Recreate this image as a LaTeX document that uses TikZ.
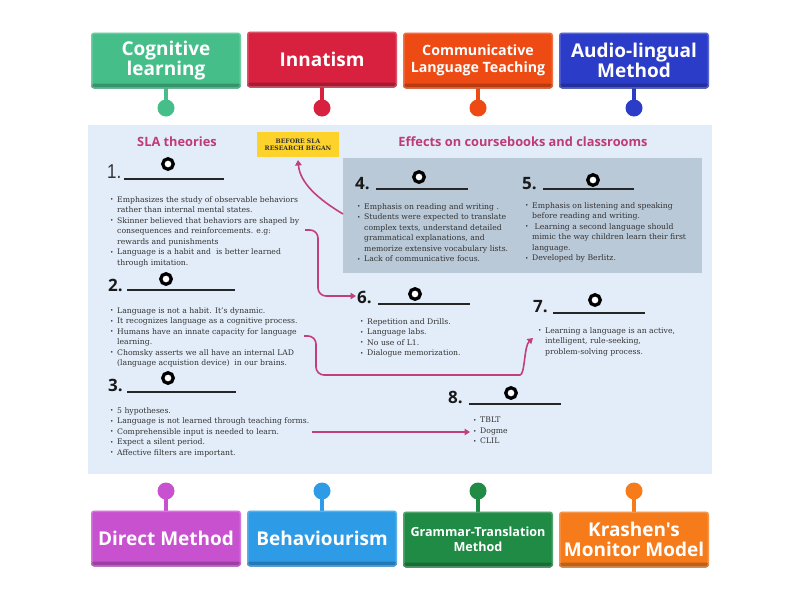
\documentclass[tikz,border=0pt]{standalone}
\usepackage{fontspec}
\setmainfont{DejaVu Serif}
\newfontfamily\osans{Open Sans}
\newfontfamily\lsans{Liberation Sans}
\usetikzlibrary{arrows.meta}
\definecolor{cogG}{HTML}{45BE8A}
\definecolor{innR}{HTML}{D7213F}
\definecolor{cltO}{HTML}{EE4A14}
\definecolor{audB}{HTML}{2B3CC8}
\definecolor{dirM}{HTML}{C851D0}
\definecolor{behB}{HTML}{2E9BE6}
\definecolor{gtmG}{HTML}{1F8B45}
\definecolor{kraO}{HTML}{F67B1A}
\definecolor{panelc}{HTML}{E3EDF9}
\definecolor{greyc}{HTML}{BAC9D8}
\definecolor{headc}{HTML}{BF3A78}
\definecolor{arrowc}{HTML}{C2407A}
\definecolor{yellowc}{HTML}{FDD22B}
\definecolor{bodyc}{HTML}{333333}
\newcommand\bl{\makebox[7pt][l]{\raisebox{0.3pt}{\scalebox{0.75}{\textbullet}}}}
\newcommand\cl{\hspace*{7pt}}
\begin{document}
\begin{tikzpicture}[x=1pt,y=-1pt,
  tile/.style={rounded corners=3pt, minimum width=150pt, minimum height=56pt,
    text=white, align=center, inner sep=0pt, fill=#1,
    path picture={
      \fill[#1!78!black] ([yshift=5pt]path picture bounding box.south west) rectangle (path picture bounding box.south east);
      \draw[white, opacity=.22, line width=3pt] (path picture bounding box.north west) rectangle (path picture bounding box.south east);
    }},
  bigf/.style={font=\osans\bfseries\fontsize{19}{21}\selectfont},
  pin/.style={circle, fill=#1, minimum size=17pt, inner sep=0pt},
  stem/.style={draw=#1, line width=3.5pt},
  head/.style={font=\osans\bfseries\fontsize{12.8}{14}\selectfont, text=headc},
  num/.style={font=\osans\bfseries\fontsize{17}{19}\selectfont, text=black!90, inner sep=0pt, anchor=base west},
  ring/.style={circle, draw=black, fill=white, line width=3.3pt, minimum size=10.5pt, inner sep=0pt},
  uline/.style={draw=black!85, line width=1.4pt},
  body/.style={font=\fontsize{7.7}{10.55}\selectfont, text=bodyc, align=left, inner sep=0pt, anchor=north west},
  conn/.style={draw=arrowc, line width=1.6pt, -{Triangle[length=5.5pt,width=6.5pt]}},
]
\useasboundingbox (0,0) rectangle (800,600);
\fill[white] (0,0) rectangle (800,600);

% top tiles
\draw[stem=cogG] (166,80) -- (166,108);
\draw[stem=innR] (322,80) -- (322,108);
\draw[stem=cltO] (478,80) -- (478,108);
\draw[stem=audB] (634,80) -- (634,108);
\node[tile=cogG, bigf] (t1) at (166,60.5) {Cognitive\\[-1pt]learning};
\node[tile=innR, bigf] (t2) at (322,59.5) {Innatism};
\node[tile=cltO, font=\osans\bfseries\fontsize{14.2}{17}\selectfont] (t3) at (478,60.5) {Communicative\\Language Teaching};
\node[tile=audB, bigf] (t4) at (634,60.5) {Audio-lingual\\[-1pt]Method};
\node[pin=cogG] (p1) at (166,108) {};
\node[pin=innR] (p2) at (322,108) {};
\node[pin=cltO] (p3) at (478,108) {};
\node[pin=audB] (p4) at (634,108) {};

% bottom tiles
\draw[stem=dirM] (166,491) -- (166,515);
\draw[stem=behB] (322,491) -- (322,515);
\draw[stem=gtmG] (478,491) -- (478,515);
\draw[stem=kraO] (634,491) -- (634,515);
\node[pin=dirM] (q1) at (166,491) {};
\node[pin=behB] (q2) at (322,491) {};
\node[pin=gtmG] (q3) at (478,491) {};
\node[pin=kraO] (q4) at (634,491) {};
\node[tile=dirM, bigf] (b1) at (166,538.5) {Direct Method};
\node[tile=behB, bigf] (b2) at (322,538.5) {Behaviourism};
\node[tile=gtmG, font=\osans\bfseries\fontsize{12.6}{15.5}\selectfont] (b3) at (478,539.5) {Grammar-Translation\\Method};
\node[tile=kraO, bigf] (b4) at (634,539.5) {Krashen's\\[-1pt]Monitor Model};

% panel
\fill[panelc] (88,125) rectangle (712,474);
\fill[greyc] (343,158) rectangle (702,273);

\node[head] (h1) at (177,142) {SLA theories};
\node[head] (h2) at (523,142) {Effects on coursebooks and classrooms};
\node[fill=yellowc, minimum width=82pt, minimum height=25pt, inner sep=0pt, align=center,
  font=\bfseries\fontsize{6.1}{7.4}\selectfont, text=black!80] (yb) at (298,144.5) {BEFORE SLA\\RESEARCH BEGAN};

% item 1
\node[font=\lsans\fontsize{20}{22}\selectfont, text=black!80, inner sep=0pt, anchor=base west] (n1) at (107,178) {\scalebox{0.85}[1]{1.}};
\draw[uline] (124,179) -- (224,179);
\node[ring] (r1) at (168,164) {};
\node[body] (d1) at (110,196) {\bl Emphasizes the study of observable behaviors\\
\cl rather than internal mental states.\\
\bl Skinner believed that behaviors are shaped by\\
\cl consequences and reinforcements. e.g:\\
\cl rewards and punishments\\
\bl Language is a habit and\ \ is better learned\\
\cl through imitation.};

% item 2
\node[num] (n2) at (108,291) {2.};
\draw[uline] (127,290) -- (235,290);
\node[ring] (r2) at (166,279) {};
\node[body] (d2) at (110,307) {\bl Language is not a habit. It's dynamic.\\
\bl It recognizes language as a cognitive process.\\
\bl Humans have an innate capacity for language\\
\cl learning.\\
\bl Chomsky asserts we all have an internal LAD\\
\cl (language acquistion device)\ \ in our brains.};

% item 3
\node[num] (n3) at (108,391) {3.};
\draw[uline] (127,392) -- (236,392);
\node[ring] (r3) at (168,378) {};
\node[body] (d3) at (110,407) {\bl 5 hypotheses.\\
\bl Language is not learned through teaching forms.\\
\bl Comprehensible input is needed to learn.\\
\bl Expect a silent period.\\
\bl Affective filters are important.};

% item 4
\node[num] (n4) at (355,189) {4.};
\draw[uline] (376,189) -- (468,189);
\node[ring] (r4) at (419,177) {};
\node[body] (d4) at (357,203) {\bl Emphasis on reading and writing .\\
\bl Students were expected to translate\\
\cl complex texts, understand detailed\\
\cl grammatical explanations, and\\
\cl memorize extensive vocabulary lists.\\
\bl Lack of communicative focus.};

% item 5
\node[num] (n5) at (522,189) {5.};
\draw[uline] (543,189) -- (634,189);
\node[ring] (r5) at (593,180) {};
\node[body] (d5) at (525,202) {\bl Emphasis on listening and speaking\\
\cl before reading and writing.\\
\bl\ Learning a second language should\\
\cl mimic the way children learn their first\\
\cl language.\\
\bl Developed by Berlitz.};

% item 6
\node[num] (n6) at (357,303) {6.};
\draw[uline] (378,304) -- (470,304);
\node[ring] (r6) at (415,294) {};
\node[body] (d6) at (360,318) {\bl Repetition and Drills.\\
\bl Language labs.\\
\bl No use of L1.\\
\bl Dialogue memorization.};

% item 7
\node[num] (n7) at (533,312) {7.};
\draw[uline] (553,313) -- (645,313);
\node[ring] (r7) at (595,300) {};
\node[body] (d7) at (538,327) {\bl Learning a language is an active,\\
\cl intelligent, rule-seeking,\\
\cl problem-solving process.};

% item 8
\node[num] (n8) at (448,403) {8.};
\draw[uline] (469,404) -- (561,404);
\node[ring] (r8) at (511,393) {};
\node[body] (d8) at (473,417) {\bl TBLT\\ \bl Dogme\\ \bl CLIL};

% connectors
\coordinate (a1s) at (343,214);
\coordinate (a1e) at (298,160);
\draw[conn] (a1s) .. controls (318,199) and (300,183) .. (a1e);
\coordinate (a2s) at (305,230);
\coordinate (a2e) at (356,296);
\draw[conn, rounded corners=8pt] (a2s) -- (318,230) -- (318,296) -- (a2e);
\coordinate (a3s) at (304,336);
\coordinate (a3e) at (533,338);
\draw[conn, rounded corners=8pt] (a3s) -- (316,336) -- (316,375) -- (512,375) .. controls (525,375) and (524,346) .. (a3e);
\coordinate (a4s) at (312,432);
\coordinate (a4e) at (470,432);
\draw[conn] (a4s) -- (a4e);
\end{tikzpicture}
\end{document}
